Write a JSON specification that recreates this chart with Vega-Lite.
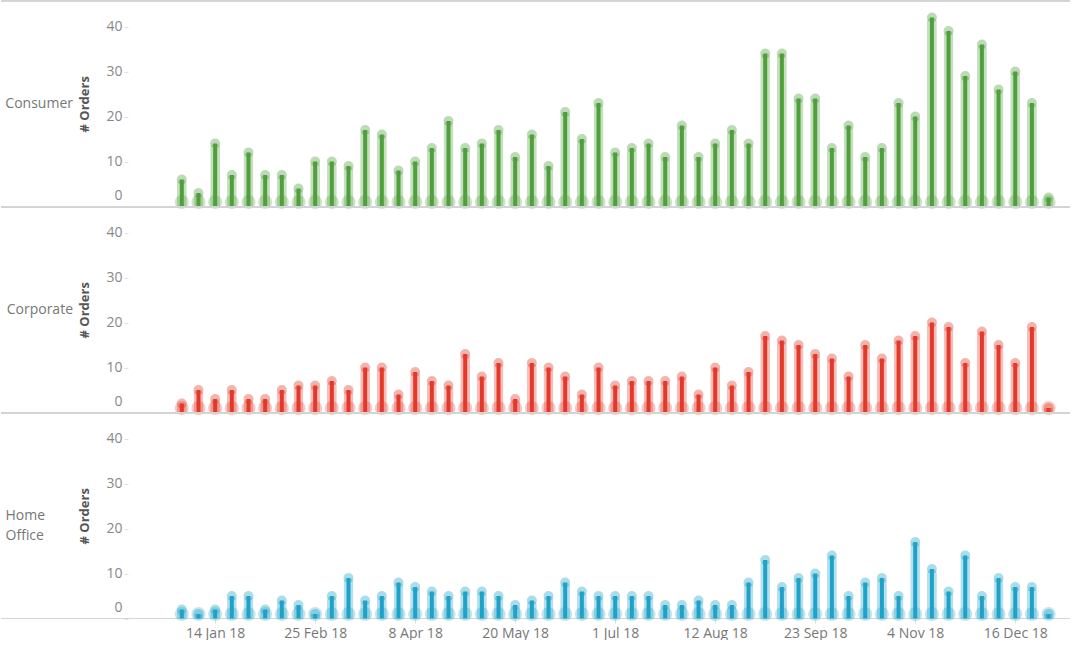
{
  "$schema": "https://vega.github.io/schema/vega-lite/v6.json",
  "background": "white",
  "padding": {"left": 0, "top": 0, "right": 0, "bottom": 0},
  "bounds": "flush",
  "data": {
    "values": [
      {"Segment": "Consumer", "Week": "2017-12-31T00:00", "Orders": 6},
      {"Segment": "Consumer", "Week": "2018-01-07T00:00", "Orders": 3},
      {"Segment": "Consumer", "Week": "2018-01-14T00:00", "Orders": 14},
      {"Segment": "Consumer", "Week": "2018-01-21T00:00", "Orders": 7},
      {"Segment": "Consumer", "Week": "2018-01-28T00:00", "Orders": 12},
      {"Segment": "Consumer", "Week": "2018-02-04T00:00", "Orders": 7},
      {"Segment": "Consumer", "Week": "2018-02-11T00:00", "Orders": 7},
      {"Segment": "Consumer", "Week": "2018-02-18T00:00", "Orders": 4},
      {"Segment": "Consumer", "Week": "2018-02-25T00:00", "Orders": 10},
      {"Segment": "Consumer", "Week": "2018-03-04T00:00", "Orders": 10},
      {"Segment": "Consumer", "Week": "2018-03-11T00:00", "Orders": 9},
      {"Segment": "Consumer", "Week": "2018-03-18T00:00", "Orders": 17},
      {"Segment": "Consumer", "Week": "2018-03-25T00:00", "Orders": 16},
      {"Segment": "Consumer", "Week": "2018-04-01T00:00", "Orders": 8},
      {"Segment": "Consumer", "Week": "2018-04-08T00:00", "Orders": 10},
      {"Segment": "Consumer", "Week": "2018-04-15T00:00", "Orders": 13},
      {"Segment": "Consumer", "Week": "2018-04-22T00:00", "Orders": 19},
      {"Segment": "Consumer", "Week": "2018-04-29T00:00", "Orders": 13},
      {"Segment": "Consumer", "Week": "2018-05-06T00:00", "Orders": 14},
      {"Segment": "Consumer", "Week": "2018-05-13T00:00", "Orders": 17},
      {"Segment": "Consumer", "Week": "2018-05-20T00:00", "Orders": 11},
      {"Segment": "Consumer", "Week": "2018-05-27T00:00", "Orders": 16},
      {"Segment": "Consumer", "Week": "2018-06-03T00:00", "Orders": 9},
      {"Segment": "Consumer", "Week": "2018-06-10T00:00", "Orders": 21},
      {"Segment": "Consumer", "Week": "2018-06-17T00:00", "Orders": 15},
      {"Segment": "Consumer", "Week": "2018-06-24T00:00", "Orders": 23},
      {"Segment": "Consumer", "Week": "2018-07-01T00:00", "Orders": 12},
      {"Segment": "Consumer", "Week": "2018-07-08T00:00", "Orders": 13},
      {"Segment": "Consumer", "Week": "2018-07-15T00:00", "Orders": 14},
      {"Segment": "Consumer", "Week": "2018-07-22T00:00", "Orders": 11},
      {"Segment": "Consumer", "Week": "2018-07-29T00:00", "Orders": 18},
      {"Segment": "Consumer", "Week": "2018-08-05T00:00", "Orders": 11},
      {"Segment": "Consumer", "Week": "2018-08-12T00:00", "Orders": 14},
      {"Segment": "Consumer", "Week": "2018-08-19T00:00", "Orders": 17},
      {"Segment": "Consumer", "Week": "2018-08-26T00:00", "Orders": 14},
      {"Segment": "Consumer", "Week": "2018-09-02T00:00", "Orders": 34},
      {"Segment": "Consumer", "Week": "2018-09-09T00:00", "Orders": 34},
      {"Segment": "Consumer", "Week": "2018-09-16T00:00", "Orders": 24},
      {"Segment": "Consumer", "Week": "2018-09-23T00:00", "Orders": 24},
      {"Segment": "Consumer", "Week": "2018-09-30T00:00", "Orders": 13},
      {"Segment": "Consumer", "Week": "2018-10-07T00:00", "Orders": 18},
      {"Segment": "Consumer", "Week": "2018-10-14T00:00", "Orders": 11},
      {"Segment": "Consumer", "Week": "2018-10-21T00:00", "Orders": 13},
      {"Segment": "Consumer", "Week": "2018-10-28T00:00", "Orders": 23},
      {"Segment": "Consumer", "Week": "2018-11-04T00:00", "Orders": 20},
      {"Segment": "Consumer", "Week": "2018-11-11T00:00", "Orders": 42},
      {"Segment": "Consumer", "Week": "2018-11-18T00:00", "Orders": 39},
      {"Segment": "Consumer", "Week": "2018-11-25T00:00", "Orders": 29},
      {"Segment": "Consumer", "Week": "2018-12-02T00:00", "Orders": 36},
      {"Segment": "Consumer", "Week": "2018-12-09T00:00", "Orders": 26},
      {"Segment": "Consumer", "Week": "2018-12-16T00:00", "Orders": 30},
      {"Segment": "Consumer", "Week": "2018-12-23T00:00", "Orders": 23},
      {"Segment": "Consumer", "Week": "2018-12-30T00:00", "Orders": 2},
      {"Segment": "Corporate", "Week": "2017-12-31T00:00", "Orders": 2},
      {"Segment": "Corporate", "Week": "2018-01-07T00:00", "Orders": 5},
      {"Segment": "Corporate", "Week": "2018-01-14T00:00", "Orders": 3},
      {"Segment": "Corporate", "Week": "2018-01-21T00:00", "Orders": 5},
      {"Segment": "Corporate", "Week": "2018-01-28T00:00", "Orders": 3},
      {"Segment": "Corporate", "Week": "2018-02-04T00:00", "Orders": 3},
      {"Segment": "Corporate", "Week": "2018-02-11T00:00", "Orders": 5},
      {"Segment": "Corporate", "Week": "2018-02-18T00:00", "Orders": 6},
      {"Segment": "Corporate", "Week": "2018-02-25T00:00", "Orders": 6},
      {"Segment": "Corporate", "Week": "2018-03-04T00:00", "Orders": 7},
      {"Segment": "Corporate", "Week": "2018-03-11T00:00", "Orders": 5},
      {"Segment": "Corporate", "Week": "2018-03-18T00:00", "Orders": 10},
      {"Segment": "Corporate", "Week": "2018-03-25T00:00", "Orders": 10},
      {"Segment": "Corporate", "Week": "2018-04-01T00:00", "Orders": 4},
      {"Segment": "Corporate", "Week": "2018-04-08T00:00", "Orders": 9},
      {"Segment": "Corporate", "Week": "2018-04-15T00:00", "Orders": 7},
      {"Segment": "Corporate", "Week": "2018-04-22T00:00", "Orders": 6},
      {"Segment": "Corporate", "Week": "2018-04-29T00:00", "Orders": 13},
      {"Segment": "Corporate", "Week": "2018-05-06T00:00", "Orders": 8},
      {"Segment": "Corporate", "Week": "2018-05-13T00:00", "Orders": 11},
      {"Segment": "Corporate", "Week": "2018-05-20T00:00", "Orders": 3},
      {"Segment": "Corporate", "Week": "2018-05-27T00:00", "Orders": 11},
      {"Segment": "Corporate", "Week": "2018-06-03T00:00", "Orders": 10},
      {"Segment": "Corporate", "Week": "2018-06-10T00:00", "Orders": 8},
      {"Segment": "Corporate", "Week": "2018-06-17T00:00", "Orders": 4},
      {"Segment": "Corporate", "Week": "2018-06-24T00:00", "Orders": 10},
      {"Segment": "Corporate", "Week": "2018-07-01T00:00", "Orders": 6},
      {"Segment": "Corporate", "Week": "2018-07-08T00:00", "Orders": 7},
      {"Segment": "Corporate", "Week": "2018-07-15T00:00", "Orders": 7},
      {"Segment": "Corporate", "Week": "2018-07-22T00:00", "Orders": 7},
      {"Segment": "Corporate", "Week": "2018-07-29T00:00", "Orders": 8},
      {"Segment": "Corporate", "Week": "2018-08-05T00:00", "Orders": 4},
      {"Segment": "Corporate", "Week": "2018-08-12T00:00", "Orders": 10},
      {"Segment": "Corporate", "Week": "2018-08-19T00:00", "Orders": 6},
      {"Segment": "Corporate", "Week": "2018-08-26T00:00", "Orders": 9},
      {"Segment": "Corporate", "Week": "2018-09-02T00:00", "Orders": 17},
      {"Segment": "Corporate", "Week": "2018-09-09T00:00", "Orders": 16},
      {"Segment": "Corporate", "Week": "2018-09-16T00:00", "Orders": 15},
      {"Segment": "Corporate", "Week": "2018-09-23T00:00", "Orders": 13},
      {"Segment": "Corporate", "Week": "2018-09-30T00:00", "Orders": 12},
      {"Segment": "Corporate", "Week": "2018-10-07T00:00", "Orders": 8},
      {"Segment": "Corporate", "Week": "2018-10-14T00:00", "Orders": 15},
      {"Segment": "Corporate", "Week": "2018-10-21T00:00", "Orders": 12},
      {"Segment": "Corporate", "Week": "2018-10-28T00:00", "Orders": 16},
      {"Segment": "Corporate", "Week": "2018-11-04T00:00", "Orders": 17},
      {"Segment": "Corporate", "Week": "2018-11-11T00:00", "Orders": 20},
      {"Segment": "Corporate", "Week": "2018-11-18T00:00", "Orders": 19},
      {"Segment": "Corporate", "Week": "2018-11-25T00:00", "Orders": 11},
      {"Segment": "Corporate", "Week": "2018-12-02T00:00", "Orders": 18},
      {"Segment": "Corporate", "Week": "2018-12-09T00:00", "Orders": 15},
      {"Segment": "Corporate", "Week": "2018-12-16T00:00", "Orders": 11},
      {"Segment": "Corporate", "Week": "2018-12-23T00:00", "Orders": 19},
      {"Segment": "Corporate", "Week": "2018-12-30T00:00", "Orders": 1},
      {"Segment": "Home Office", "Week": "2017-12-31T00:00", "Orders": 2},
      {"Segment": "Home Office", "Week": "2018-01-07T00:00", "Orders": 1},
      {"Segment": "Home Office", "Week": "2018-01-14T00:00", "Orders": 2},
      {"Segment": "Home Office", "Week": "2018-01-21T00:00", "Orders": 5},
      {"Segment": "Home Office", "Week": "2018-01-28T00:00", "Orders": 5},
      {"Segment": "Home Office", "Week": "2018-02-04T00:00", "Orders": 2},
      {"Segment": "Home Office", "Week": "2018-02-11T00:00", "Orders": 4},
      {"Segment": "Home Office", "Week": "2018-02-18T00:00", "Orders": 3},
      {"Segment": "Home Office", "Week": "2018-02-25T00:00", "Orders": 1},
      {"Segment": "Home Office", "Week": "2018-03-04T00:00", "Orders": 5},
      {"Segment": "Home Office", "Week": "2018-03-11T00:00", "Orders": 9},
      {"Segment": "Home Office", "Week": "2018-03-18T00:00", "Orders": 4},
      {"Segment": "Home Office", "Week": "2018-03-25T00:00", "Orders": 5},
      {"Segment": "Home Office", "Week": "2018-04-01T00:00", "Orders": 8},
      {"Segment": "Home Office", "Week": "2018-04-08T00:00", "Orders": 7},
      {"Segment": "Home Office", "Week": "2018-04-15T00:00", "Orders": 6},
      {"Segment": "Home Office", "Week": "2018-04-22T00:00", "Orders": 5},
      {"Segment": "Home Office", "Week": "2018-04-29T00:00", "Orders": 6},
      {"Segment": "Home Office", "Week": "2018-05-06T00:00", "Orders": 6},
      {"Segment": "Home Office", "Week": "2018-05-13T00:00", "Orders": 5},
      {"Segment": "Home Office", "Week": "2018-05-20T00:00", "Orders": 3},
      {"Segment": "Home Office", "Week": "2018-05-27T00:00", "Orders": 4},
      {"Segment": "Home Office", "Week": "2018-06-03T00:00", "Orders": 5},
      {"Segment": "Home Office", "Week": "2018-06-10T00:00", "Orders": 8},
      {"Segment": "Home Office", "Week": "2018-06-17T00:00", "Orders": 6},
      {"Segment": "Home Office", "Week": "2018-06-24T00:00", "Orders": 5},
      {"Segment": "Home Office", "Week": "2018-07-01T00:00", "Orders": 5},
      {"Segment": "Home Office", "Week": "2018-07-08T00:00", "Orders": 5},
      {"Segment": "Home Office", "Week": "2018-07-15T00:00", "Orders": 5},
      {"Segment": "Home Office", "Week": "2018-07-22T00:00", "Orders": 3},
      {"Segment": "Home Office", "Week": "2018-07-29T00:00", "Orders": 3},
      {"Segment": "Home Office", "Week": "2018-08-05T00:00", "Orders": 4},
      {"Segment": "Home Office", "Week": "2018-08-12T00:00", "Orders": 3},
      {"Segment": "Home Office", "Week": "2018-08-19T00:00", "Orders": 3},
      {"Segment": "Home Office", "Week": "2018-08-26T00:00", "Orders": 8},
      {"Segment": "Home Office", "Week": "2018-09-02T00:00", "Orders": 13},
      {"Segment": "Home Office", "Week": "2018-09-09T00:00", "Orders": 7},
      {"Segment": "Home Office", "Week": "2018-09-16T00:00", "Orders": 9},
      {"Segment": "Home Office", "Week": "2018-09-23T00:00", "Orders": 10},
      {"Segment": "Home Office", "Week": "2018-09-30T00:00", "Orders": 14},
      {"Segment": "Home Office", "Week": "2018-10-07T00:00", "Orders": 5},
      {"Segment": "Home Office", "Week": "2018-10-14T00:00", "Orders": 8},
      {"Segment": "Home Office", "Week": "2018-10-21T00:00", "Orders": 9},
      {"Segment": "Home Office", "Week": "2018-10-28T00:00", "Orders": 5},
      {"Segment": "Home Office", "Week": "2018-11-04T00:00", "Orders": 17},
      {"Segment": "Home Office", "Week": "2018-11-11T00:00", "Orders": 11},
      {"Segment": "Home Office", "Week": "2018-11-18T00:00", "Orders": 6},
      {"Segment": "Home Office", "Week": "2018-11-25T00:00", "Orders": 14},
      {"Segment": "Home Office", "Week": "2018-12-02T00:00", "Orders": 5},
      {"Segment": "Home Office", "Week": "2018-12-09T00:00", "Orders": 9},
      {"Segment": "Home Office", "Week": "2018-12-16T00:00", "Orders": 7},
      {"Segment": "Home Office", "Week": "2018-12-23T00:00", "Orders": 7},
      {"Segment": "Home Office", "Week": "2018-12-30T00:00", "Orders": 1}
    ]
  },
  "facet": {
    "row": {
      "field": "Segment",
      "type": "nominal",
      "sort": ["Consumer", "Corporate", "Home Office"],
      "title": null,
      "header": {
        "labelAngle": 0,
        "labelAlign": "left",
        "labelOrient": "left",
        "labelPadding": 6,
        "labelColor": "#777777",
        "labelFont": "Open Sans",
        "labelFontSize": 14,
        "labelLineHeight": 20,
        "labelExpr": "datum.value == 'Home Office' ? ['Home', 'Office\u00a0\u00a0\u00a0\u00a0\u00a0\u00a0\u00a0\u00a0\u200b'] : datum.value"
      }
    }
  },
  "spacing": 0,
  "spec": {
    "width": 947,
    "height": 205.5,
    "layer": [
      {
        "mark": {"type": "rule", "color": "#d4d4d4", "strokeWidth": 1},
        "encoding": {
          "y": {"datum": 0},
          "x": {"datum": {"year": 2017, "month": 10, "date": 16, "hours": 6}, "type": "temporal"},
          "x2": {"datum": {"year": 2019, "month": 1, "date": 8}}
        }
      },
      {
        "mark": {"type": "rule", "color": "#d4d4d4", "strokeWidth": 1},
        "encoding": {
          "y": {"datum": 45.67},
          "x": {"datum": {"year": 2017, "month": 10, "date": 16, "hours": 6}, "type": "temporal"},
          "x2": {"datum": {"year": 2019, "month": 1, "date": 8}}
        }
      },
      {
        "encoding": {
          "x": {
            "field": "Week",
            "type": "temporal",
            "title": null,
            "scale": {
              "domain": [
                {"year": 2017, "month": 12, "date": 10, "hours": 12},
                {"year": 2019, "month": 1, "date": 8}
              ]
            },
            "axis": {
              "values": [
                {"year": 2018, "month": 1, "date": 14},
                {"year": 2018, "month": 2, "date": 25},
                {"year": 2018, "month": 4, "date": 8},
                {"year": 2018, "month": 5, "date": 20},
                {"year": 2018, "month": 7, "date": 1},
                {"year": 2018, "month": 8, "date": 12},
                {"year": 2018, "month": 9, "date": 23},
                {"year": 2018, "month": 11, "date": 4},
                {"year": 2018, "month": 12, "date": 16}
              ],
              "format": "%-d %b %y",
              "labelFlush": false,
              "labelPadding": 3
            }
          },
          "y": {
            "field": "Orders",
            "type": "quantitative",
            "title": "# Orders",
            "scale": {"domain": [0, 45.67], "nice": false},
            "axis": {"values": [0, 10, 20, 30, 40], "labelFlush": true, "labelFlushOffset": -4}
          },
          "color": {
            "field": "Segment",
            "type": "nominal",
            "legend": null,
            "scale": {
              "domain": ["Consumer", "Corporate", "Home Office"],
              "range": ["#4f9f3c", "#e3392b", "#1fa2c7"]
            }
          }
        },
        "layer": [
          {"mark": {"type": "bar", "width": 10, "cornerRadiusEnd": 5, "opacity": 0.33}},
          {
            "mark": {"type": "circle", "size": 200, "opacity": 0.28},
            "encoding": {"y": {"datum": 1}}
          },
          {"mark": {"type": "bar", "width": 4}},
          {"mark": {"type": "circle", "size": 100, "opacity": 0.38}}
        ]
      }
    ]
  },
  "config": {
    "font": "Open Sans",
    "view": {"stroke": null},
    "axis": {
      "grid": false,
      "domain": false,
      "tickColor": "#e0e0e0",
      "tickSize": 4,
      "labelColor": "#888888",
      "labelFontSize": 14,
      "labelFont": "Open Sans",
      "titleFont": "Open Sans",
      "titleColor": "#555555",
      "titleFontSize": 13,
      "titleFontWeight": "bold"
    },
    "axisY": {"labelPadding": 2, "titlePadding": 14},
    "axisX": {"labelColor": "#777777"}
  }
}
